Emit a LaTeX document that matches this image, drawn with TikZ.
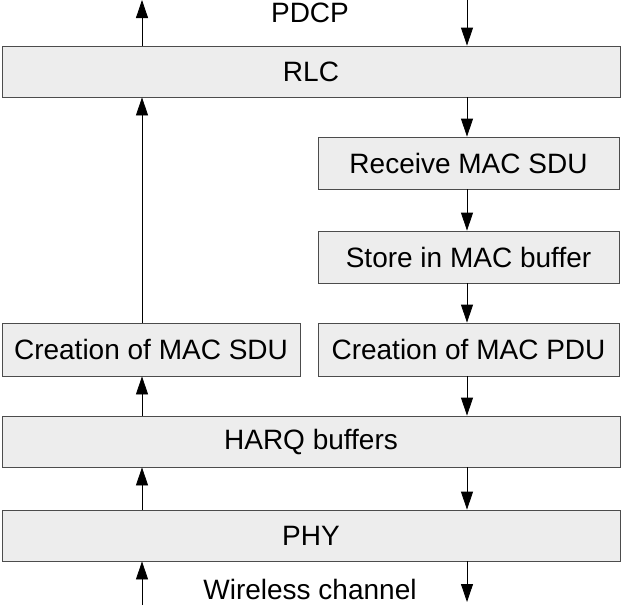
\documentclass[tikz,border=0pt]{standalone}
\usepackage{fontspec}
\setmainfont{Liberation Sans}
\usetikzlibrary{arrows.meta}
\begin{document}
\begin{tikzpicture}[x=1pt,y=-1pt,
  blk/.style={draw=black!70,fill=black!7,line width=0.8pt,inner sep=0pt,font=\fontsize{28}{32}\selectfont},
  arr/.style={-{Triangle[length=18pt,width=12pt]},line width=0.8pt},
  lbl/.style={font=\fontsize{28}{32}\selectfont,inner sep=0pt}]
\useasboundingbox (0,0) rectangle (621,605);
\node[blk,minimum width=618pt,minimum height=51pt] (rlc) at (311,71.5) {RLC};
\node[blk,minimum width=301pt,minimum height=52pt] (rcv) at (468.5,163) {Receive MAC SDU};
\node[blk,minimum width=301pt,minimum height=52pt] (sto) at (468.5,257) {Store in MAC buffer};
\node[blk,minimum width=298pt,minimum height=53pt] (csdu) at (151,349.5) {Creation of MAC SDU};
\node[blk,minimum width=301pt,minimum height=53pt] (cpdu) at (468.5,349.5) {Creation of MAC PDU};
\node[blk,minimum width=618pt,minimum height=51pt] (harq) at (311,441.5) {HARQ buffers};
\node[blk,minimum width=618pt,minimum height=51pt] (phy) at (311,535.5) {PHY};
\node[lbl] (pdcp) at (310,13) {PDCP};
\node[lbl] (wc) at (310,589) {Wireless channel};
\coordinate (lt) at (142,0);
\coordinate (lb) at (142,605);
\coordinate (rt) at (467,0);
\coordinate (rb) at (467,602);
\draw[arr] (lb) -- (phy.south -| lb);
\draw[arr] (phy.north -| lb) -- (harq.south -| lb);
\draw[arr] (harq.north -| lb) -- (csdu.south -| lb);
\draw[arr] (csdu.north -| lb) -- (rlc.south -| lb);
\draw[arr] (rlc.north -| lb) -- (lt);
\draw[arr] (rt) -- (rlc.north -| rt);
\draw[arr] (rlc.south -| rt) -- (rcv.north -| rt);
\draw[arr] (rcv.south -| rt) -- (sto.north -| rt);
\draw[arr] (sto.south -| rt) -- (cpdu.north -| rt);
\draw[arr] (cpdu.south -| rt) -- (harq.north -| rt);
\draw[arr] (harq.south -| rt) -- (phy.north -| rt);
\draw[arr] (phy.south -| rt) -- (rb);
\end{tikzpicture}
\end{document}
